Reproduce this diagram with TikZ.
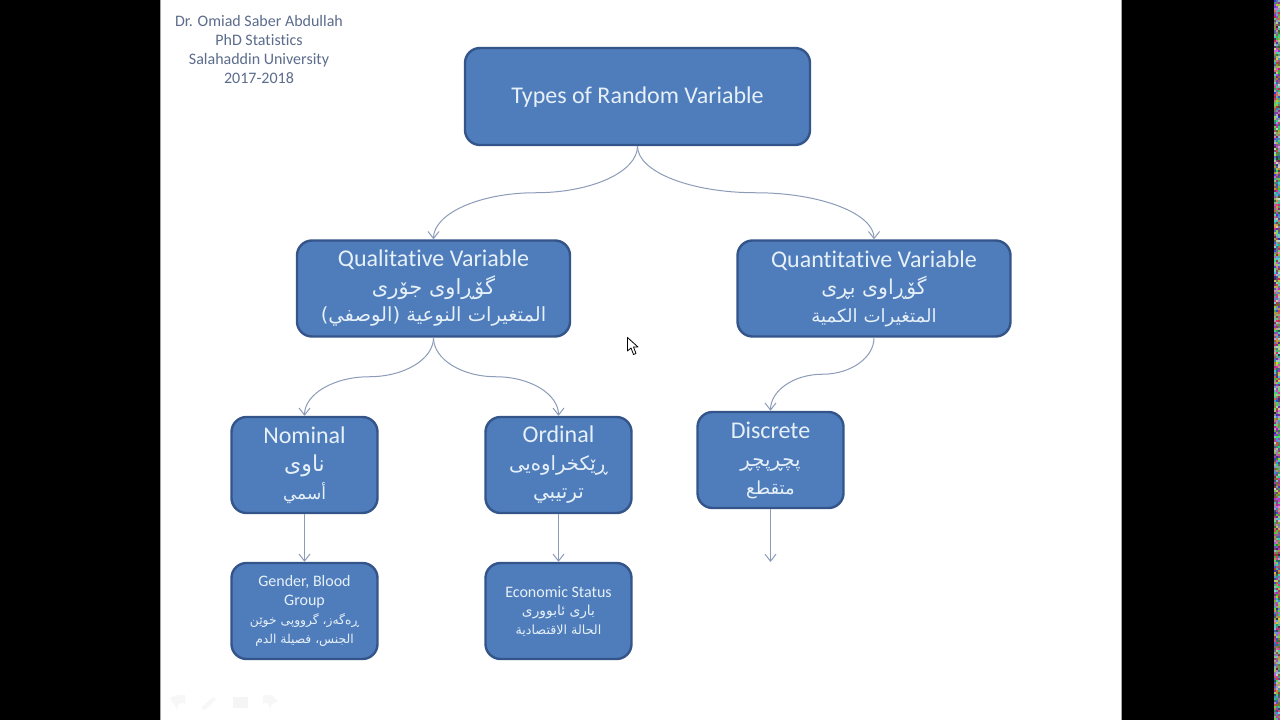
\documentclass[tikz,border=0pt]{standalone}
\usepackage{fontspec}
\setmainfont{Carlito}[Ligatures=NoCommon]
\newfontfamily\arabicfont[Script=Arabic]{DejaVu Sans}
\TeXXeTstate=1
\usetikzlibrary{%
  positioning,%
  calc,%
  arrows.meta%
}
\definecolor{boxfill}{HTML}{4F7DBB}
\definecolor{boxline}{HTML}{34558A}
\definecolor{boxtext}{HTML}{E6F0F8}
\definecolor{connline}{HTML}{8C9CB8}
\definecolor{credit}{HTML}{5C6C8C}
\newcommand{\arsize}[1]{\arabicfont\fontsize{#1}{#1}\selectfont}
\newcommand{\curveconn}[2]{%
	\coordinate (s) at (#1.south);
	\coordinate (e) at (#2.north);
	\coordinate (m) at ($(s)!0.5!(e)$);
	\draw[conn] (s) .. controls ($(s)!0.55!(s|-m)$) and ($(m)!0.55!(s|-m)$) .. (m)
		.. controls ($(m)!0.55!(e|-m)$) and ($(e)!0.55!(e|-m)$) .. (e);
}
\tikzset{
	varbox/.style={draw=boxline, line width=2.4pt, fill=boxfill, rounded corners=15pt, text=boxtext, align=center, inner sep=0pt},
	bigbox/.style={varbox, minimum width=273pt, minimum height=96pt},
	midbox/.style={varbox, minimum width=146pt, minimum height=96pt},
	conn/.style={draw=connline, line width=1pt, -{Straight Barb[length=7pt,width=11pt]}}
}

\begin{document}
\begin{tikzpicture}[x=1pt, y=-1pt]
\useasboundingbox (0,0) rectangle (1280,720);
\fill[black] (0,0) rectangle (1280,720);
\fill[white] (160,0) rectangle (1121,720);
\fill[gray!70] (160,0) rectangle (161,720);
\fill[gray!70] (1120.5,0) rectangle (1121.5,720);

% noise along the right edge
\pgfmathsetseed{42}
\foreach \row in {0,...,359} {
	\foreach \col in {0,1,2} {
		\pgfmathsetmacro{\nr}{int(random(40,220))}
		\pgfmathsetmacro{\ng}{int(random(40,220))}
		\pgfmathsetmacro{\nb}{int(random(40,220))}
		\definecolor{noise}{RGB}{\nr,\ng,\nb}
		\fill[noise] ({1274+2*\col},{2*\row}) rectangle +(2,2);
	}
}

% faint slide controls
\fill[black!3] (170,698) -- (177,695) -- (185,695) -- (185,703) -- (179,703) -- (177,709) -- cycle;
\fill[black!3] (201,708) -- (213,697) -- (216,699) -- (205,710) -- cycle;
\fill[black!4] (233,697) rectangle (248,708);
\fill[black!3] (263,695) -- (272,695) -- (278,701) -- (272,704) -- (270,709) -- (268,703) -- (263,703) -- cycle;

\node[text=credit, font=\fontsize{16}{19.3}\selectfont, align=center] (credit) at (259,49.5) {Dr. Omiad Saber Abdullah\\PhD Statistics\\Salahaddin University\\2017-2018};

\node[varbox, minimum width=345pt, minimum height=97pt, text height=20pt, text depth=5.4pt, font=\fontsize{24}{28}\selectfont] (title) at (637.5,96.5) {Types of Random Variable};

\node[bigbox, font=\fontsize{24}{27.5}\selectfont] (qual) at (433.5,288.5) {Qualitative Variable\\{\arsize{21}\beginR گۆڕاوی جۆری\endR}\\{\arsize{19.5}\beginR المتغيرات النوعية  (الوصفي)\endR}};
\node[bigbox, font=\fontsize{24}{27.5}\selectfont] (quant) at (874,288.5) {Quantitative Variable\\{\arsize{20.5}\beginR گۆڕاوی بڕی\endR}\\{\arsize{18.2}\beginR المتغيرات الكمية\endR}};

\node[midbox, font=\fontsize{24}{28}\selectfont] (nominal) at (304.5,465) {Nominal\\{\arsize{22}\beginR ناوی\endR}\\{\arsize{17}\beginR أسمي\endR}};
\node[midbox, font=\fontsize{24}{28}\selectfont] (ordinal) at (558.5,465) {Ordinal\\{\arsize{19.6}\beginR ڕێکخراوەیی\endR}\\{\arsize{20}\beginR ترتيبي\endR}};
\node[midbox, font=\fontsize{24}{28}\selectfont] (discrete) at (770.5,460) {Discrete\\{\arsize{19.6}\beginR پچڕپچڕ\endR}\\{\arsize{18}\beginR متقطع\endR}};

\node[midbox, font=\fontsize{16}{19}\selectfont] (gender) at (304.5,611) {Gender, Blood\\Group\\{\arsize{12.3}\beginR ڕەگەز، گرووپی خوێن\endR}\\{\arsize{12.3}\beginR الجنس، فصيلة الدم\endR}};
\node[midbox, font=\fontsize{16}{18.5}\selectfont] (econ) at (558.5,611) {Economic Status\\{\arsize{13.8}\beginR باری ئابووری\endR}\\{\arsize{12.7}\beginR الحالة الاقتصادية\endR}};

\coordinate (dend) at (770.5,562);

\curveconn{title}{qual}
\curveconn{title}{quant}
\curveconn{qual}{nominal}
\curveconn{qual}{ordinal}
\curveconn{quant}{discrete}

\draw
	(nominal) edge[conn] (gender)
	(ordinal) edge[conn] (econ)
	(discrete) edge[conn] (dend)
;

% mouse pointer
\draw[black, fill=white, line width=0.8pt, line join=round] (627.5,337.5) -- (627.5,351) -- (631,348) -- (633.5,354.5) -- (636,353.5) -- (633.5,347) -- (638,347) -- cycle;
\end{tikzpicture}
\end{document}
